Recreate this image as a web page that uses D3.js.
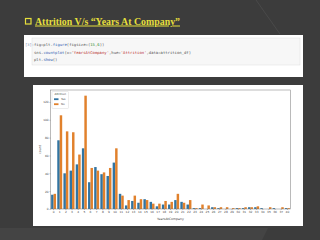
<!DOCTYPE html>
<html>
<head>
<meta charset="utf-8">
<script src="https://cdn.jsdelivr.net/npm/d3@7"></script>
<style>
  html, body { margin: 0; padding: 0; background: #3c3c3c; }
  svg { display: block; }
</style>
</head>
<body>
<div id="slide"></div>
<script>
var years = ["0","1","2","3","4","5","6","7","8","9","10","11","12","13","14","15","16","17","18","19",
             "20","21","22","23","24","25","26","27","28","29","30","31","32","33","34","35","36","37","40"];
var yesCounts = [16,77,40,43,50,68,30,47,39,37,52,17,4,9,7,11,8,3,5,5,
                 10,8,5,1,1,0,2,1,0,0,1,1,2,2,1,0,1,0,1];
var noCounts = [17,105,87,86,61,127,46,43,41,46,68,15,10,15,11,10,6,6,9,8,
                17,7,10,1,5,4,2,2,2,1,1,2,2,3,0,2,0,2,1];
var hueLevels = ["Yes", "No"];
var hueColors = ["#3274a1", "#e1812c"];
var yTicks = [0, 20, 40, 60, 80, 100, 120];

var svgWidth = 320;
var svgHeight = 240;

var svg = d3.select("#slide")
    .append("svg")
    .attr("width", svgWidth)
    .attr("height", svgHeight);

// slide background
svg.append("rect")
    .attr("width", svgWidth)
    .attr("height", svgHeight)
    .attr("fill", "#3c3c3c");
svg.append("polygon")
    .attr("points", "0,228 268,228 262,240 0,240")
    .attr("fill", "#444444");
svg.append("line")
    .attr("x1", 256).attr("y1", 0).attr("x2", 280).attr("y2", 34)
    .attr("stroke", "#4a4a4a").attr("stroke-width", 1);

// title
svg.append("rect")
    .attr("x", 25.5).attr("y", 18.5).attr("width", 5.5).attr("height", 5.5)
    .attr("fill", "none").attr("stroke", "#e6df3c").attr("stroke-width", 1.2);
svg.append("text")
    .attr("x", 35).attr("y", 24.5)
    .attr("font-family", "Liberation Serif")
    .attr("font-weight", "bold")
    .attr("font-size", 10)
    .attr("fill", "#e6df3c")
    .attr("text-decoration", "underline")
    .attr("textLength", 145)
    .attr("lengthAdjust", "spacingAndGlyphs")
    .text("Attrition V/s \u201cYears At Company\u201d");

// code cell
svg.append("rect")
    .attr("x", 24).attr("y", 35).attr("width", 279).attr("height", 42)
    .attr("fill", "#ffffff");
svg.append("rect")
    .attr("x", 32).attr("y", 38).attr("width", 268).attr("height", 27)
    .attr("fill", "#f7f7f7").attr("stroke", "#dddddd").attr("stroke-width", 0.5);
svg.append("text")
    .attr("x", 25).attr("y", 46)
    .attr("font-family", "DejaVu Sans Mono").attr("font-size", 3.8)
    .attr("fill", "#8090b0")
    .text("[3]:");

var codeLines = [
  [["fig=plt.", "#555"], ["figure", "#3060b0"], ["(figsize=(", "#555"], ["15", "#2a8a2a"], [",", "#555"], ["6", "#2a8a2a"], ["))", "#555"]],
  [["sns.", "#555"], ["countplot", "#3060b0"], ["(x=", "#555"], ["'YearsAtCompany'", "#b83030"], [",hue=", "#555"], ["'Attrition'", "#b83030"], [",data=attrition_df)", "#555"]],
  [["plt.", "#555"], ["show", "#3060b0"], ["()", "#555"]]
];
codeLines.forEach(function(parts, i) {
    var t = svg.append("text")
        .attr("x", 34).attr("y", 46 + i * 7.5)
        .attr("font-family", "DejaVu Sans Mono")
        .attr("font-size", 3.9);
    parts.forEach(function(p) {
        t.append("tspan").attr("fill", p[1]).text(p[0]);
    });
});

// figure image
svg.append("rect")
    .attr("x", 33).attr("y", 85).attr("width", 270).attr("height", 141)
    .attr("fill", "#ffffff");

var plot = { left: 50.5, right: 290.5, top: 90, bottom: 209 };

var x = d3.scaleBand()
    .domain(years)
    .range([plot.left, plot.right])
    .paddingInner(0.2)
    .paddingOuter(0.1);

var xHue = d3.scaleBand()
    .domain(hueLevels)
    .range([0, x.bandwidth()]);

var yMax = d3.max(yesCounts.concat(noCounts)) * 1.05;
var y = d3.scaleLinear()
    .domain([0, yMax])
    .range([plot.bottom, plot.top]);

var color = d3.scaleOrdinal().domain(hueLevels).range(hueColors);

var rows = [];
years.forEach(function(yr, i) {
    rows.push({ year: yr, hue: "Yes", count: yesCounts[i] });
    rows.push({ year: yr, hue: "No", count: noCounts[i] });
});

var chartGroup = svg.append("g");

chartGroup.selectAll("rect.bar")
    .data(rows)
    .enter()
    .append("rect")
    .attr("class", "bar")
    .attr("x", d => x(d.year) + xHue(d.hue))
    .attr("width", xHue.bandwidth())
    .attr("y", d => y(d.count))
    .attr("height", d => y(0) - y(d.count))
    .attr("fill", d => color(d.hue));

// axes
var bottomAxis = d3.axisBottom(x).tickSize(1).tickPadding(0.8);
var leftAxis = d3.axisLeft(y).tickValues(yTicks).tickSize(1).tickPadding(0.8);

var xAxis = chartGroup.append("g")
    .attr("transform", `translate(0, ${plot.bottom})`)
    .call(bottomAxis);
var yAxis = chartGroup.append("g")
    .attr("transform", `translate(${plot.left}, 0)`)
    .call(leftAxis);

[xAxis, yAxis].forEach(function(a) {
    a.select(".domain").remove();
    a.selectAll(".tick line").attr("stroke", "#555").attr("stroke-width", 0.4);
    a.selectAll(".tick text")
        .attr("font-family", "DejaVu Sans")
        .attr("font-size", 2.9)
        .attr("fill", "#444");
});

// spines
chartGroup.append("rect")
    .attr("x", plot.left).attr("y", plot.top)
    .attr("width", plot.right - plot.left)
    .attr("height", plot.bottom - plot.top)
    .attr("fill", "none")
    .attr("stroke", "#777")
    .attr("stroke-width", 0.5);

// axis labels
chartGroup.append("text")
    .attr("x", (plot.left + plot.right) / 2)
    .attr("y", 219.5)
    .attr("text-anchor", "middle")
    .attr("font-family", "DejaVu Sans")
    .attr("font-size", 3.2)
    .attr("fill", "#444")
    .text("YearsAtCompany");

chartGroup.append("text")
    .attr("transform", "rotate(-90)")
    .attr("x", -(plot.top + plot.bottom) / 2)
    .attr("y", 41)
    .attr("text-anchor", "middle")
    .attr("font-family", "DejaVu Sans")
    .attr("font-size", 3.2)
    .attr("fill", "#444")
    .text("count");

// legend
var legend = chartGroup.append("g")
    .attr("transform", "translate(52, 91.5)");
legend.append("rect")
    .attr("width", 16.5).attr("height", 17)
    .attr("rx", 0.8)
    .attr("fill", "#ffffff")
    .attr("stroke", "#d0d0d0")
    .attr("stroke-width", 0.4);
legend.append("text")
    .attr("x", 8.25).attr("y", 3.8)
    .attr("text-anchor", "middle")
    .attr("font-family", "DejaVu Sans")
    .attr("font-size", 2.8)
    .attr("fill", "#444")
    .text("Attrition");
hueLevels.forEach(function(h, i) {
    legend.append("rect")
        .attr("x", 2).attr("y", 6.8 + i * 5)
        .attr("width", 4.5).attr("height", 1.8)
        .attr("fill", color(h));
    legend.append("text")
        .attr("x", 9).attr("y", 8.7 + i * 5)
        .attr("font-family", "DejaVu Sans")
        .attr("font-size", 2.8)
        .attr("fill", "#444")
        .text(h);
});
</script>
</body>
</html>
